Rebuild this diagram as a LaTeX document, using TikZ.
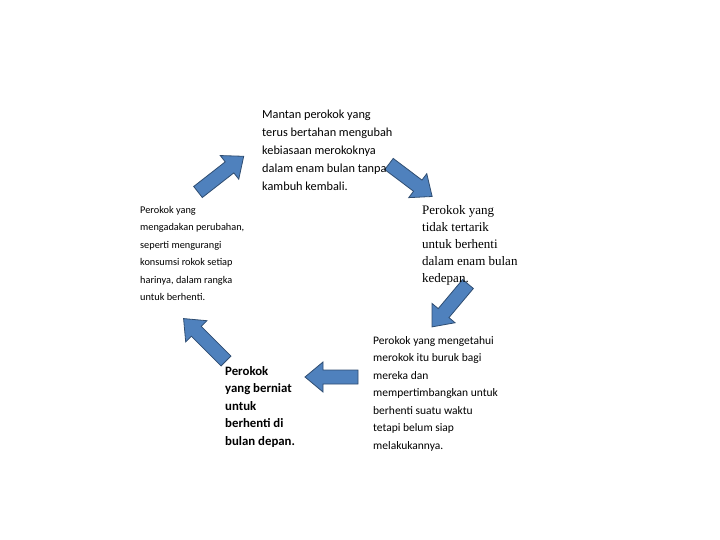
\documentclass[tikz,border=0pt]{standalone}
\usepackage{fontspec}
\setmainfont{Carlito}
\newfontfamily\serifx{Liberation Serif}
\begin{document}
\begin{tikzpicture}[x=1pt,y=1pt,
  txt/.style={anchor=north west, align=left, inner sep=0pt},
  txtb/.style={anchor=north west, align=left, inner sep=0pt, font=\fontsize{12.8}{17.5}\selectfont\bfseries},
  txts/.style={anchor=north west, align=left, inner sep=0pt, font=\serifx\fontsize{13}{17}\selectfont}]
\useasboundingbox (0,0) rectangle (720,-540);
\newcommand\barrow[4]{\draw[arrowst, shift={(#1,-#2)}, rotate=#3] (0,-7) -- ({#4-18},-7) -- ({#4-18},-15) -- (#4,0) -- ({#4-18},15) -- ({#4-18},7) -- (0,7) -- cycle;}
\definecolor{ab}{RGB}{79,129,189}
\tikzset{arrowst/.style={draw=ab!60!black, fill=ab, line width=0.8pt}}
\barrow{198}{192}{38}{58}
\barrow{389}{164}{-37}{54}
\barrow{468}{284}{230}{56}
\barrow{358}{377}{180}{53}
\barrow{226}{361}{135}{60}
\node[txt, font=\fontsize{12.3}{18}\selectfont] (t1) at (262,-110) {Mantan perokok yang\\terus bertahan mengubah\\kebiasaan merokoknya\\dalam enam bulan tanpa\\kambuh kembali.};
\node[txts] (t2) at (422,-205) {Perokok yang\\tidak tertarik\\untuk berhenti\\dalam enam bulan\\kedepan.};
\node[txt, font=\fontsize{11.5}{17.5}\selectfont] (t3) at (373,-336) {Perokok yang mengetahui\\merokok itu buruk bagi\\mereka dan\\mempertimbangkan untuk\\berhenti suatu waktu\\tetapi belum siap\\melakukannya.};
\node[txtb] (t4) at (225,-366) {Perokok\\yang berniat\\untuk\\berhenti di\\bulan depan.};
\node[txt, font=\fontsize{10.3}{17.5}\selectfont] (t5) at (140,-206) {Perokok yang\\mengadakan perubahan,\\seperti mengurangi\\konsumsi rokok setiap\\harinya, dalam rangka\\untuk berhenti.};
\end{tikzpicture}
\end{document}
